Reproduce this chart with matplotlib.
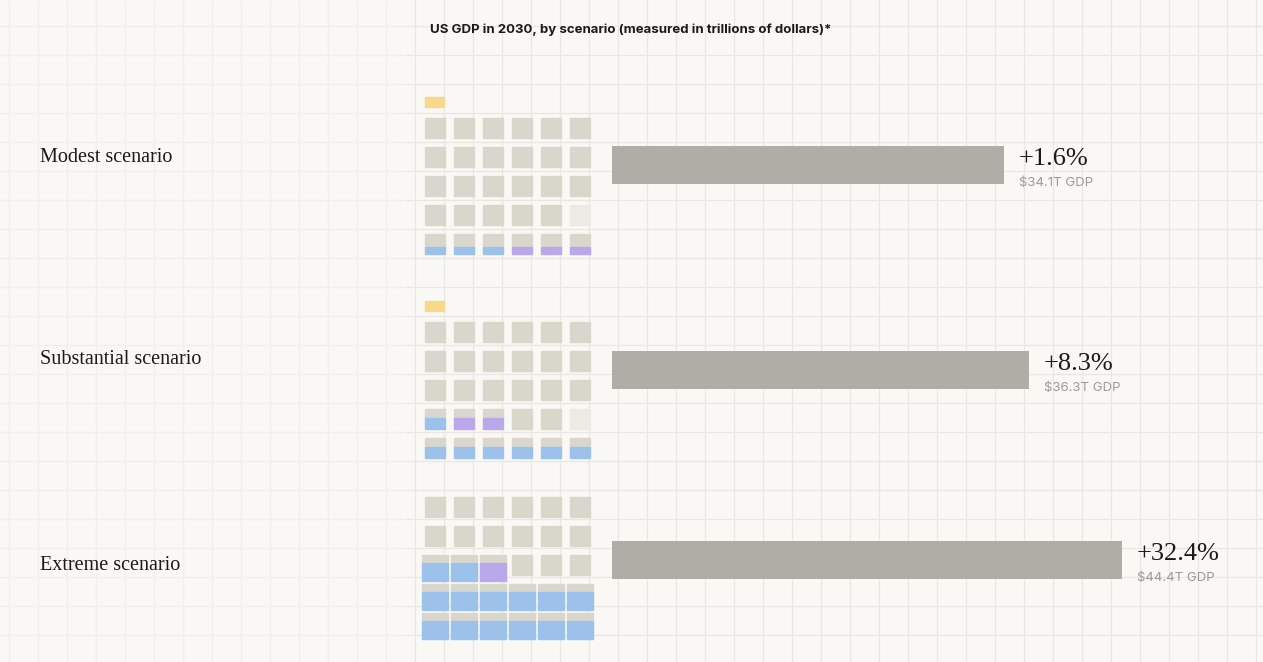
import matplotlib.pyplot as plt
from matplotlib.patches import Rectangle

# scenario data
scenarios = ['Modest scenario', 'Substantial scenario', 'Extreme scenario']
gdp = [34.1, 36.3, 44.4]
growth = ['+1.6%', '+8.3%', '+32.4%']

# waffle cells: per scenario, rows top->bottom, each cell = colour code
# g = grey only, b = blue, p = purple, l = light grey
waffle_rows = [
    ['gggggg', 'gggggg', 'gggggg', 'gggggl', 'bbbppp'],
    ['gggggg', 'gggggg', 'gggggg', 'bppggl', 'bbbbbb'],
    ['gggggg', 'gggggg', 'bbpggg', 'bbbbbb', 'bbbbbb'],
]
# coloured fraction of each coloured cell, per row
waffle_fill = [
    [0, 0, 0, 0, 0.35],
    [0, 0, 0, 0.55, 0.55],
    [0, 0, 0.7, 0.7, 0.7],
]
has_yellow = [True, True, False]

colors = {'g': '#d9d7cc', 'l': '#ecebe3', 'b': '#9cc2ec', 'p': '#bba8ea'}
bg = '#f9f8f4'

fig = plt.figure(figsize=(12.63, 6.62), dpi=100, facecolor=bg)
ax = fig.add_axes([0, 0, 1, 1])
ax.set_xlim(0, 1263)
ax.set_ylim(662, 0)
ax.axis('off')

# background grid
for x in range(9, 1263, 29):
    ax.axvline(x, color='#e9e7e1', lw=0.9, zorder=0)
for y in range(26, 662, 29):
    ax.axhline(y, color='#e9e7e1', lw=0.9, zorder=0)
ax.add_patch(Rectangle((0, 0), 405, 662, color=bg, alpha=0.5, zorder=0.5))

ax.text(430, 30, 'US GDP in 2030, by scenario (measured in trillions of dollars)*',
        fontsize=9.5, fontweight='bold', family='Inter', color='#1a1a1a', va='center')

top_rows = [118, 322, 497]
label_y = [157, 360, 565]
bar_y = [165, 370, 560]

for i, name in enumerate(scenarios):
    ax.text(40, label_y[i], name, fontsize=14.5, family='Liberation Serif',
            color='#1a1a1a', va='center')
    y0 = top_rows[i]
    if has_yellow[i]:
        ax.add_patch(Rectangle((425, y0 - 21), 19, 10, color='#f8d88a', zorder=2))
    for r, row in enumerate(waffle_rows[i]):
        frac = waffle_fill[i][r]
        for c, code in enumerate(row):
            big = code in 'bp' and frac >= 0.7
            w = 26 if big else 20
            h = 26 if big else 20
            cx = 435 + 29 * c
            cy = y0 + 29 * r + 10 + (3 if big else 0)
            x = cx - w / 2
            y = cy - h / 2
            if code in 'bp':
                ax.add_patch(Rectangle((x, y), w, h * (1 - frac), color=colors['g'], zorder=2))
                ax.add_patch(Rectangle((x, y + h * (1 - frac)), w, h * frac,
                                       color=colors[code], zorder=2))
            else:
                ax.add_patch(Rectangle((x, y), w, h, color=colors[code], zorder=2))

# bars on their own axes with a data scale
bax = fig.add_axes([612 / 1263, 0, (1122 - 612) / 1263, 1])
bax.set_xlim(0, 44.4)
bax.set_ylim(662, 0)
bax.axis('off')
bax.barh(bar_y, gdp, height=38, color='#afaea6', zorder=3)
for i in range(3):
    bax.text(gdp[i] + 1.3, bar_y[i] - 6, growth[i], fontsize=19,
             family='Liberation Serif', color='#1a1a1a', va='center', clip_on=False)
    bax.text(gdp[i] + 1.3, bar_y[i] + 18, f'${gdp[i]}T GDP', fontsize=9.5,
             family='Inter', color='#9a9a9a', va='center', clip_on=False)

fig.savefig('out.png', dpi=100, facecolor=bg)
